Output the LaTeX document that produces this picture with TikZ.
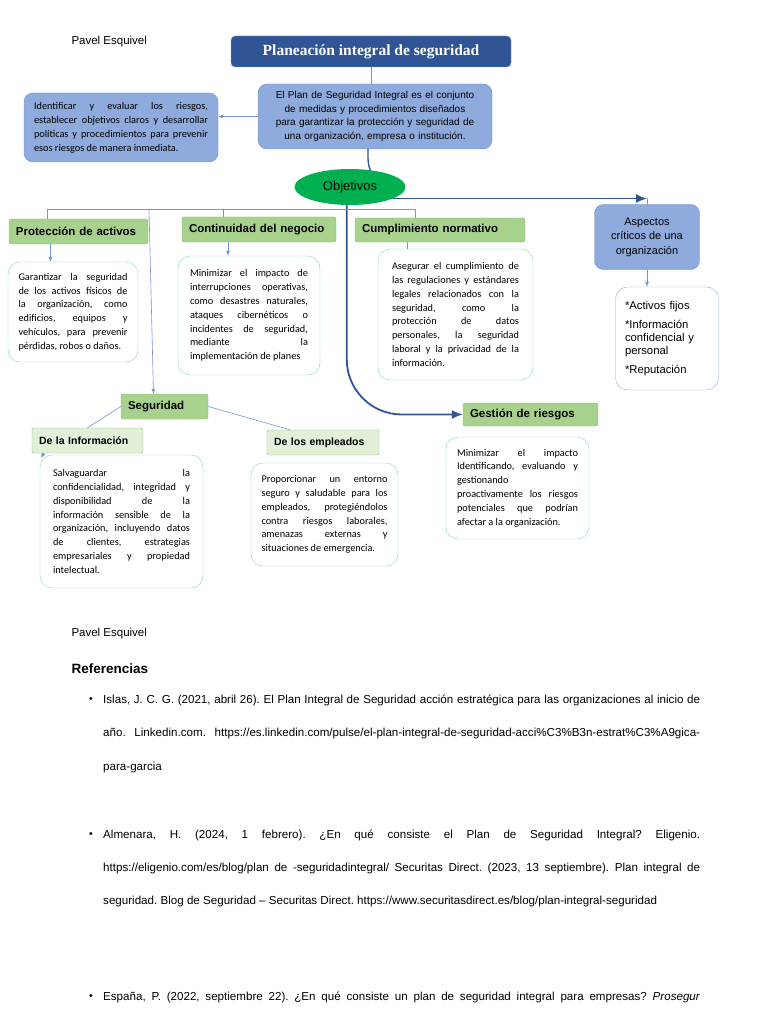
\documentclass[tikz,border=0pt]{standalone}
\usepackage{fontspec}
\setmainfont{Liberation Sans}
\newfontfamily\carlfont{Carlito}
\newfontfamily\timesfont{Liberation Serif}
\usetikzlibrary{shapes.geometric,arrows.meta}

\definecolor{darkblu}{HTML}{2F5597}
\definecolor{softblu}{HTML}{8FAADC}
\definecolor{lineblu}{HTML}{4472C4}
\definecolor{objgreen}{HTML}{00B050}
\definecolor{headgreen}{HTML}{A9D18E}
\definecolor{palegreen}{HTML}{E2F0D9}
\definecolor{mintline}{HTML}{7ED9A4}
\definecolor{greenline}{HTML}{82C76A}

\hyphenpenalty=10000
\exhyphenpenalty=10000
\frenchspacing

% justified reference line
\newcommand{\jl}[1]{\makebox[597pt][s]{#1}}

\begin{document}
\begin{tikzpicture}[x=1pt,y=-1pt,line cap=round,line join=round,>={Latex[length=5pt,width=4pt]},
    titlebox/.style={fill=darkblu,draw=softblu,rounded corners=4pt,minimum width=280pt,minimum height=31pt,text=white,font=\timesfont\bfseries\fontsize{15.5}{17}\selectfont},
    bluebox/.style={fill=softblu,draw=lineblu!80,rounded corners=9pt},
    headbox/.style={fill=headgreen,draw=greenline,rounded corners=2pt,minimum height=25pt,text width=#1,inner xsep=7pt,align=left,font=\bfseries\fontsize{11.5}{13}\selectfont},
    subbox/.style={headbox=#1,fill=palegreen,font=\bfseries\fontsize{10.5}{12}\selectfont},
    descbox/.style={draw=mintline,fill=white,rounded corners=12pt,text width=#1,align=justify,font=\carlfont\fontsize{10.3}{13.8}\selectfont},
    reftext/.style={anchor=west,inner sep=0pt,font=\fontsize{11.6}{13}\selectfont},
    linkthin/.style={draw=lineblu!75,line width=0.6pt},
    linkthick/.style={draw=darkblu,line width=1.8pt}]
\useasboundingbox (0,0) rectangle (768,1024);

% cabecera
\node[anchor=west,font=\fontsize{11.5}{13}\selectfont] (autor) at (68,42) {Pavel Esquivel};
\node[titlebox] (titulo) at (371,51.5) {Planeación integral de seguridad};
\node[bluebox,minimum width=234pt,minimum height=65pt,text width=224pt,align=center,font=\fontsize{10}{13.7}\selectfont] (plan) at (375,116.5) {El Plan de Seguridad Integral es el conjunto\\ de medidas y procedimientos diseñados\\ para garantizar la protección y seguridad de\\ una organización, empresa o institución.};
\node[bluebox,minimum width=194pt,minimum height=69pt,text width=174pt,align=justify,font=\carlfont\fontsize{10.3}{14}\selectfont] (riesgo) at (121,127.5) {Identificar y evaluar los riesgos,\linebreak establecer objetivos claros y desarrollar\linebreak políticas y procedimientos para prevenir\linebreak esos riesgos de manera inmediata.};
\node[ellipse,fill=objgreen,minimum width=111pt,minimum height=36pt,inner sep=0pt,font=\fontsize{13}{14}\selectfont] (obj) at (350,187) {Objetivos};

% aspectos
\node[bluebox,minimum width=105pt,minimum height=65pt,align=center,font=\fontsize{11}{14.5}\selectfont] (asp) at (647,237) {Aspectos\\críticos de una\\organización};
\node[draw=softblu,fill=white,rounded corners=12pt,minimum width=103pt,minimum height=103pt,text width=84pt,align=left,font=\fontsize{11.3}{13}\selectfont] (lista) at (667,338.5) {*Activos fijos\\[6pt]*Información\\confidencial y\\personal\\[6pt]*Reputación};

% objetivos
\node[headbox=125pt] (prot) at (78.5,231.5) {Protección de activos};
\node[descbox=109pt,minimum width=130pt,minimum height=100pt] (protd) at (73,312) {Garantizar la seguridad\linebreak de los activos físicos de\linebreak la organización, como\linebreak edificios, equipos y\linebreak vehículos, para prevenir\linebreak pérdidas, robos o daños.};
\node[headbox=140pt] (cont) at (259,229.5) {Continuidad del negocio};
\node[descbox=118pt,minimum width=142pt,minimum height=119pt] (contd) at (249,315.5) {Minimizar el impacto de\linebreak interrupciones operativas,\linebreak como desastres naturales,\linebreak ataques cibernéticos o\linebreak incidentes de seguridad,\linebreak mediante la\linebreak implementación de planes};
\node[headbox=156pt,minimum height=24pt] (cump) at (440,230) {Cumplimiento normativo};
\node[descbox=127pt,minimum width=155pt,minimum height=131pt] (cumpd) at (455.5,314.5) {Asegurar el cumplimiento de\linebreak las regulaciones y estándares\linebreak legales relacionados con la\linebreak seguridad, como la\linebreak protección de datos\linebreak personales, la seguridad\linebreak laboral y la privacidad de la\linebreak información.};
\node[headbox=121pt,minimum height=23pt] (gest) at (530.5,414.5) {Gestión de riesgos};
\node[descbox=121pt,minimum width=143pt,minimum height=102pt] (gestd) at (517.5,488) {Minimizar el impacto\linebreak Identificando, evaluando y\linebreak gestionando\newline proactivamente los riesgos\linebreak potenciales que podrían\linebreak afectar a la organización.};

% seguridad
\node[headbox=73pt] (segu) at (164.5,406.5) {Seguridad};
\node[subbox=97pt] (info) at (87.5,440.5) {De la Información};
\node[descbox=137pt,minimum width=163pt,minimum height=133pt] (infod) at (121.5,521.5) {Salvaguardar la\linebreak confidencialidad, integridad y\linebreak disponibilidad de la\linebreak información sensible de la\linebreak organización, incluyendo datos\linebreak de clientes, estrategias\linebreak empresariales y propiedad\linebreak intelectual.};
\node[subbox=98pt] (empl) at (323,442.5) {De los empleados};
\node[descbox=126pt,minimum width=147pt,minimum height=103pt] (empld) at (324.5,514.5) {Proporcionar un entorno\linebreak seguro y saludable para los\linebreak empleados, protegiéndolos\linebreak contra riesgos laborales,\linebreak amenazas externas y\linebreak situaciones de emergencia.};

% conectores
\draw[linkthin] (titulo.south) -- (titulo.south |- plan.north);
\draw[linkthin,->] (plan.west) -- (plan.west -| riesgo.east);
\draw[linkthick,line width=1.4pt] ([xshift=-7pt]plan.south) to[out=-90,in=110] (obj.40);
\draw[linkthick,-{Latex[length=11pt,width=9pt]}] (obj.-15) -- (obj.-15 -| asp.north);
\draw[linkthin] (obj.-15 -| asp.north) -- (asp.north);
\draw[linkthin,->] (asp.south) -- (asp.south |- lista.north);
\draw[linkthick,rounded corners=55pt,-{Latex[length=11pt,width=9pt]}] (obj.-100) |- (gest.west);

\coordinate (busL) at (47,209);
\coordinate (busS) at (149,209);
\coordinate (busC) at (223,209);
\coordinate (busR) at (415,209);
\draw[linkthin] (busL |- prot.north) -- (busL) -- (busR) -- (busR |- cump.north);
\draw[linkthin] (busC) -- (busC |- cont.north);
\draw[linkthin,->] (busS) -- ([xshift=-11pt]segu.north);
\draw[linkthin,->] ([xshift=-28pt]prot.south) -- ([xshift=-28pt]prot.south |- protd.north);
\draw[linkthin,->] ([xshift=-31pt]cont.south) -- ([xshift=-31pt]cont.south |- contd.north);
\draw[linkthin] ([xshift=-33pt]cump.south) -- ([xshift=-33pt]cump.south |- cumpd.north);
\draw[linkthin] (segu.west) -- (info.north);
\draw[linkthin] (segu.east) -- ([xshift=-33pt]empl.north);
\draw[linkthin,->] ([xshift=12pt]info.south west) -- ([xshift=1pt,yshift=-3pt]infod.north west);

% referencias
\node[anchor=west,font=\fontsize{11.5}{13}\selectfont] (firma) at (68,634) {Pavel Esquivel};
\node[anchor=west,font=\bfseries\fontsize{13.5}{16}\selectfont] (refs) at (68,669) {Referencias};
\foreach \y in {700,835,997}
    \node[font=\fontsize{10.5}{12}\selectfont] (bala\y) at (91,\y) {\textbullet};
\node[reftext] (islasa) at (103,700) {\jl{Islas, J. C. G. (2021, abril 26). El Plan Integral de Seguridad acción estratégica para las organizaciones al inicio de}};
\node[reftext] (islasb) at (103,733) {\jl{año.\ \ Linkedin.com.\ \ https://es.linkedin.com/pulse/el-plan-integral-de-seguridad-acci\%C3\%B3n-estrat\%C3\%A9gica-}};
\node[reftext] (islasc) at (103,767) {para-garcia};
\node[reftext] (almea) at (103,835) {\jl{Almenara, H. (2024, 1 febrero). ¿En qué consiste el Plan de Seguridad Integral? Eligenio.}};
\node[reftext] (almeb) at (103,868) {\jl{https://eligenio.com/es/blog/plan de -seguridadintegral/ Securitas Direct. (2023, 13 septiembre). Plan integral de}};
\node[reftext] (almec) at (103,901) {seguridad. Blog de Seguridad – Securitas Direct. https://www.securitasdirect.es/blog/plan-integral-seguridad};
\node[reftext] (espa) at (103,997) {\jl{España, P. (2022, septiembre 22). ¿En qué consiste un plan de seguridad integral para empresas? \textit{Prosegur}}};
\end{tikzpicture}
\end{document}
